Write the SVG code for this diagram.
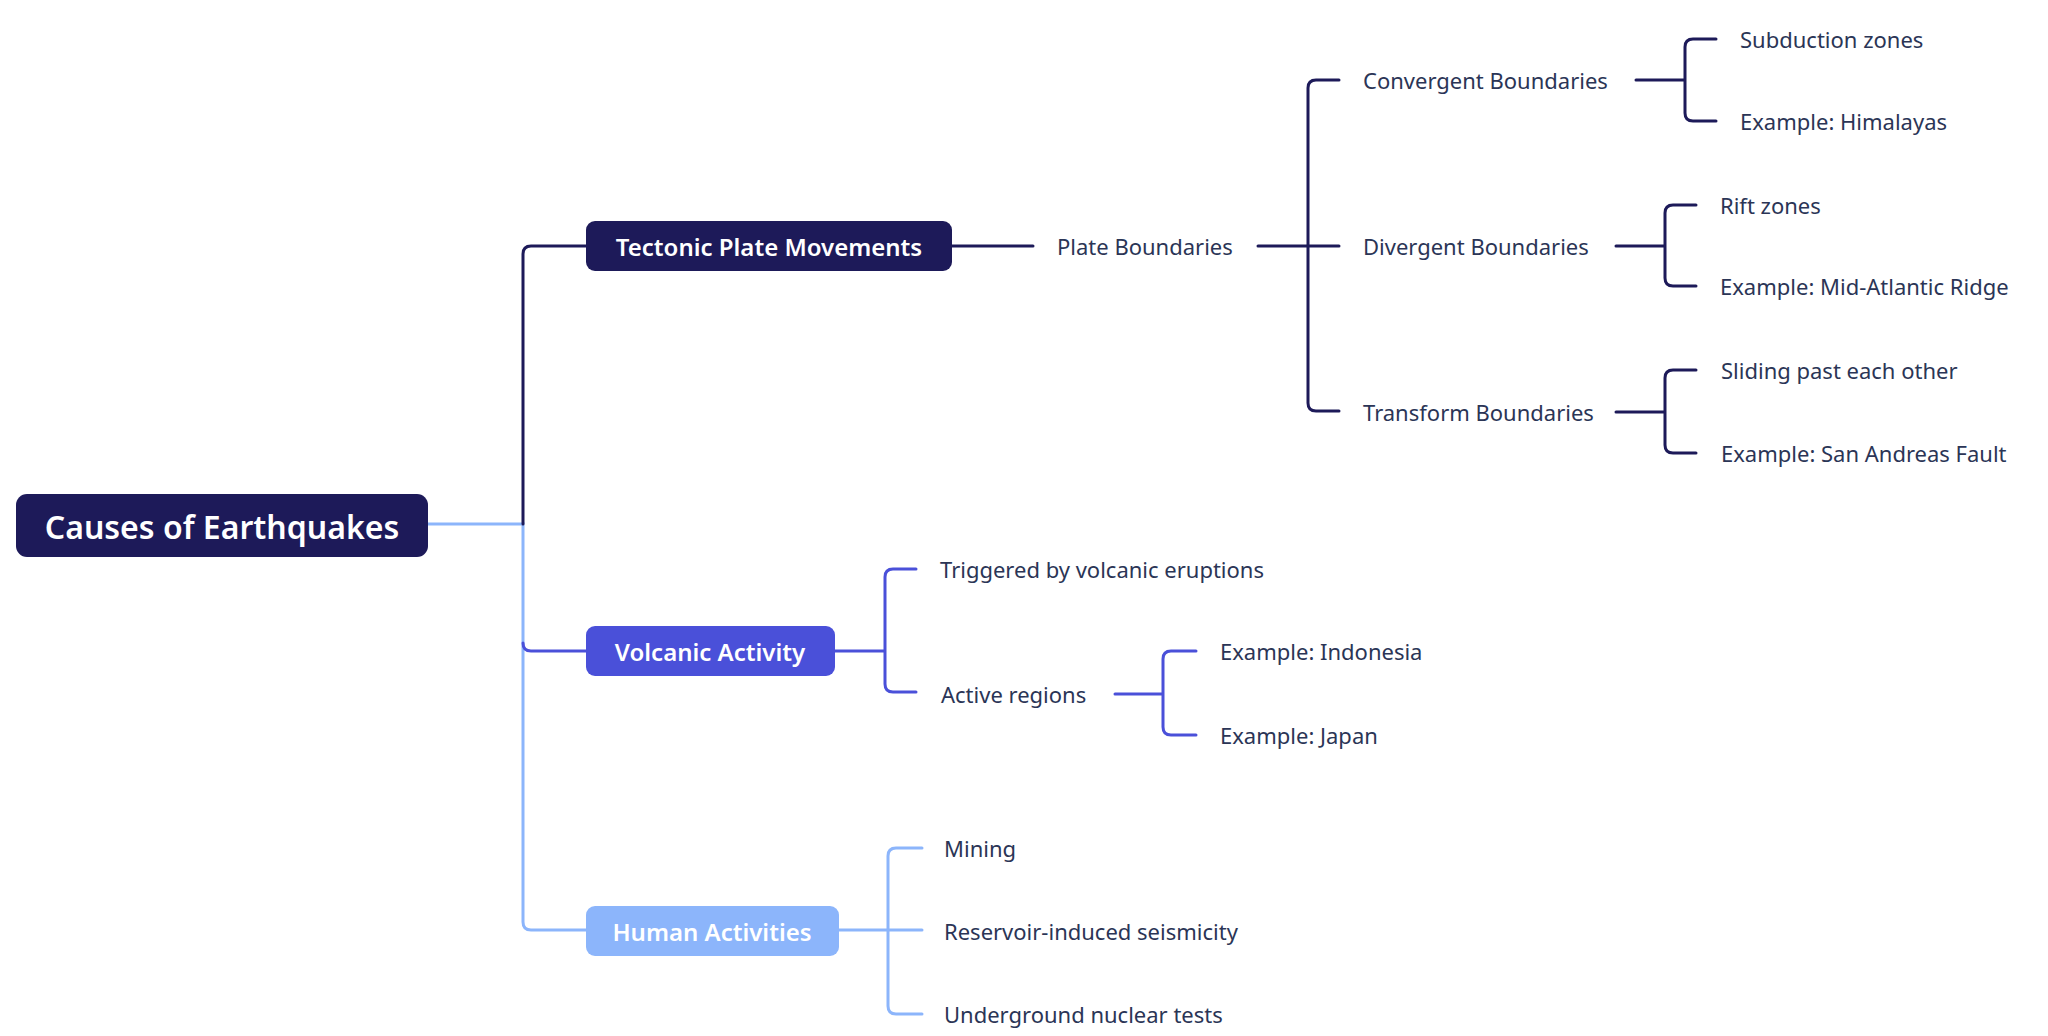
<svg xmlns="http://www.w3.org/2000/svg" width="2048" height="1036" viewBox="0 0 2048 1036">
<style>
.t{font-family:"Noto Sans","Open Sans",sans-serif;font-size:22px;fill:#2b3556;dominant-baseline:central}
.b{font-family:"Noto Sans","Open Sans",sans-serif;font-weight:600;fill:#fff;text-anchor:middle;dominant-baseline:central}
.c{fill:none;stroke-width:3;stroke-linecap:round}
.d{stroke:#1d1a59}.v{stroke:#4a50d9}.h{stroke:#8cb5fb}
</style>
<rect width="2048" height="1036" fill="#fff"/>
<g id="connectors">
<path class="c h" d="M428 524H523V922Q523 930 531 930H586"/>
<path class="c d" d="M523 524V254Q523 246 531 246H586"/>
<path class="c v" d="M523 643Q523 651 531 651H586"/>
<path class="c d" d="M952 246H1033M1258 246H1339M1308 246V88Q1308 80 1316 80H1339M1308 246V403Q1308 411 1316 411H1339"/>
<path class="c d" d="M1636 80H1685M1685 80V47Q1685 39 1693 39H1716M1685 80V113Q1685 121 1693 121H1716"/>
<path class="c d" d="M1616 246H1665M1665 246V213Q1665 205 1673 205H1696M1665 246V278Q1665 286 1673 286H1696"/>
<path class="c d" d="M1616 412H1665M1665 412V378Q1665 370 1673 370H1696M1665 412V445Q1665 453 1673 453H1696"/>
<path class="c v" d="M835 651H885M885 651V577Q885 569 893 569H916M885 651V684Q885 692 893 692H916"/>
<path class="c v" d="M1115 694H1163M1163 694V659Q1163 651 1171 651H1196M1163 694V727Q1163 735 1171 735H1196"/>
<path class="c h" d="M839 930H922M888 930V856Q888 848 896 848H922M888 930V1006Q888 1014 896 1014H922"/>
</g>
<g id="root"><rect x="16" y="494" width="412" height="63" rx="11" fill="#1d1a59"/><text class="b" x="222" y="526" font-size="32">Causes of Earthquakes</text></g>
<g id="tectonic"><rect x="586" y="221" width="366" height="50" rx="9" fill="#1d1a59"/><text class="b" x="769" y="246" font-size="24">Tectonic Plate Movements</text></g>
<g id="volcanic"><rect x="586" y="626" width="249" height="50" rx="9" fill="#4a50d9"/><text class="b" x="710" y="651" font-size="24">Volcanic Activity</text></g>
<g id="human"><rect x="586" y="906" width="253" height="50" rx="9" fill="#8cb5fb"/><text class="b" x="712" y="931" font-size="24">Human Activities</text></g>
<g id="plate"><text class="t" x="1057" y="246">Plate Boundaries</text></g>
<g id="conv"><text class="t" x="1363" y="80">Convergent Boundaries</text></g>
<g id="div"><text class="t" x="1363" y="246">Divergent Boundaries</text></g>
<g id="trans"><text class="t" x="1363" y="412">Transform Boundaries</text></g>
<g id="sub"><text class="t" x="1740" y="39">Subduction zones</text></g>
<g id="him"><text class="t" x="1740" y="121">Example: Himalayas</text></g>
<g id="rift"><text class="t" x="1720" y="205">Rift zones</text></g>
<g id="mar"><text class="t" x="1720" y="286">Example: Mid-Atlantic Ridge</text></g>
<g id="slide"><text class="t" x="1721" y="370">Sliding past each other</text></g>
<g id="saf"><text class="t" x="1721" y="453">Example: San Andreas Fault</text></g>
<g id="trig"><text class="t" x="940" y="569">Triggered by volcanic eruptions</text></g>
<g id="active"><text class="t" x="941" y="694">Active regions</text></g>
<g id="indo"><text class="t" x="1220" y="651">Example: Indonesia</text></g>
<g id="japan"><text class="t" x="1220" y="735">Example: Japan</text></g>
<g id="mining"><text class="t" x="944" y="848">Mining</text></g>
<g id="res"><text class="t" x="944" y="931">Reservoir-induced seismicity</text></g>
<g id="nuke"><text class="t" x="944" y="1014">Underground nuclear tests</text></g>
</svg>
